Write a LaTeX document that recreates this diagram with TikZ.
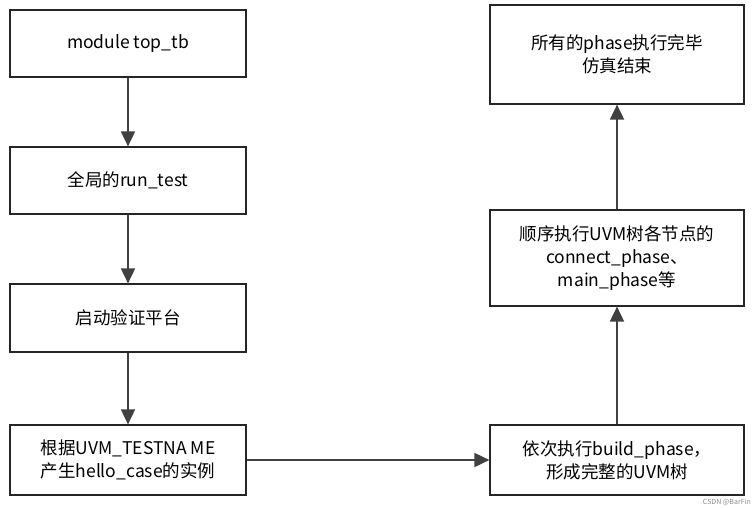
\documentclass[tikz,border=0pt]{standalone}
\usepackage{fontspec}
\setmainfont{Noto Sans CJK SC}
\usetikzlibrary{arrows.meta}
\begin{document}
\begin{tikzpicture}[x=1pt,y=-1pt,
  box/.style={draw=black!85,line width=1.2pt,fill=white,align=center,font=\fontsize{17.5}{23}\selectfont,inner sep=0pt},
  arr/.style={draw=black!75,line width=1.8pt,-{Triangle[length=15pt,width=14pt]}}]
\useasboundingbox (0,0) rectangle (754,508);
\node[box,minimum width=236pt,minimum height=67pt] (a) at (128,43.5) {module top\_tb};
\node[box,minimum width=236pt,minimum height=67pt] (b) at (128,180.5) {全局的run\_test};
\node[box,minimum width=236pt,minimum height=68pt] (c) at (128,318) {启动验证平台};
\node[box,minimum width=236pt,minimum height=70pt] (d) at (128,460) {根据UVM\_TESTNA ME\\产生hello\_case的实例};
\node[box,minimum width=254pt,minimum height=70pt] (e) at (617,460) {依次执行build\_phase，\\形成完整的UVM树};
\node[box,minimum width=254pt,minimum height=96pt] (f) at (617,258) {顺序执行UVM树各节点的\\connect\_phase、\\main\_phase等};
\node[box,minimum width=254pt,minimum height=99pt] (g) at (617,54.5) {所有的phase执行完毕\\仿真结束};
\draw[arr] (a) -- (b);
\draw[arr] (b) -- (c);
\draw[arr] (c) -- (d);
\draw[arr] (d) -- (e);
\draw[arr] (e) -- (f);
\draw[arr] (f) -- (g);
\node[font=\fontsize{7}{8}\selectfont,text=black!45,anchor=south east,inner sep=1pt] (w) at (752,507) {CSDN @BarFin};
\end{tikzpicture}
\end{document}
